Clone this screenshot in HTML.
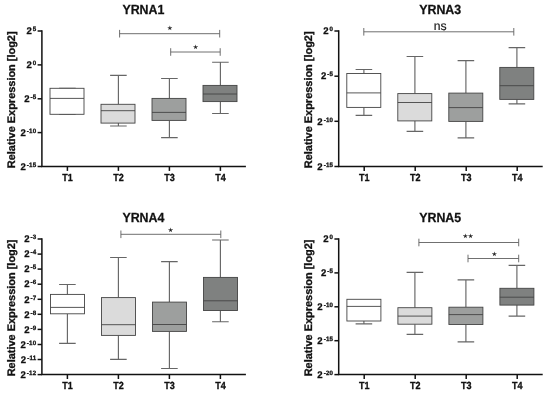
<!DOCTYPE html>
<html><head><meta charset="utf-8"><title>YRNA expression</title>
<style>
html,body{margin:0;padding:0;background:#fff;}
svg{display:block;font-family:"Liberation Sans", sans-serif;text-rendering:geometricPrecision;}
.title{font-weight:bold;font-size:12.4px;fill:#111;stroke:#111;stroke-width:0.25px;}
.ylab{font-weight:bold;font-size:10.95px;fill:#111;stroke:#111;stroke-width:0.3px;}
.yt{font-weight:bold;font-size:9.6px;fill:#111;stroke:#111;stroke-width:0.3px;}
.sup{font-size:6.2px;letter-spacing:0.2px;}
.xt{font-weight:bold;font-size:9px;fill:#111;stroke:#111;stroke-width:0.3px;}
.ax{stroke:#111;stroke-width:1.5;fill:none;}
.bx path,.bx rect{stroke:#444;stroke-width:0.9;}
.bx path.w{stroke:#666;stroke-width:1.15;}
.bx path{fill:none;}
.sig{stroke:#606060;stroke-width:0.9;fill:none;}
.star{font-family:"DejaVu Sans",sans-serif;font-size:5.8px;fill:#222;stroke:#222;stroke-width:0.15px;}
.ns{font-size:12.2px;fill:#222;stroke:#222;stroke-width:0.2px;}
</style></head><body>
<svg width="550" height="397" viewBox="0 0 550 397">
<rect width="550" height="397" fill="#fff"/>
<text transform="translate(143.4,14.2) scale(1,1.07)" class="title" text-anchor="middle">YRNA1</text>
<text transform="translate(15.3,99.8) rotate(-90)" class="ylab" text-anchor="middle">Relative Expression [log2]</text>
<g class="bx"><path class="w" d="M67.4 88.3V88.3M59.1 88.3H75.7"/><path class="w" d="M67.4 114.3V114.3M59.1 114.3H75.7"/><rect x="50.00" y="88.3" width="34.0" height="26.0" fill="#ffffff"/><path d="M50.00 98.4H84.00"/></g>
<g class="bx"><path class="w" d="M118.4 104.3V75.3M110.1 75.3H126.7"/><path class="w" d="M118.4 123.1V126.0M110.1 126.0H126.7"/><rect x="101.00" y="104.3" width="34.0" height="18.8" fill="#dbdbdb"/><path d="M101.00 110.7H135.00"/></g>
<g class="bx"><path class="w" d="M169.4 98.4V78.5M161.1 78.5H177.7"/><path class="w" d="M169.4 120.4V137.6M161.1 137.6H177.7"/><rect x="152.00" y="98.4" width="34.0" height="22.0" fill="#9d9f9e"/><path d="M152.00 112.4H186.00"/></g>
<g class="bx"><path class="w" d="M220.4 85.4V62.2M212.1 62.2H228.7"/><path class="w" d="M220.4 101.6V113.5M212.1 113.5H228.7"/><rect x="203.00" y="85.4" width="34.0" height="16.2" fill="#7f8180"/><path d="M203.00 94.0H237.00"/></g>
<path class="sig" d="M119.6 33.7H219.7M119.6 29.9V37.5M219.7 29.9V37.5"/>
<text x="169.8" y="30.1" class="star" text-anchor="middle">★</text>
<path class="sig" d="M170.7 52.0H220.2M170.7 48.2V55.8M220.2 48.2V55.8"/>
<text x="195.6" y="49.0" class="star" text-anchor="middle">★</text>
<path class="ax" d="M41.9 30.3V166.5H245.9"/>
<path class="ax" d="M37.6 31.0H41.9"/>
<text x="36.4" y="34.2" class="yt" text-anchor="end">2<tspan class="sup" dy="-3.0" dx="1.0">5</tspan></text>
<path class="ax" d="M37.6 64.9H41.9"/>
<text x="36.4" y="68.1" class="yt" text-anchor="end">2<tspan class="sup" dy="-3.0" dx="1.0">0</tspan></text>
<path class="ax" d="M37.6 98.8H41.9"/>
<text x="36.4" y="102.0" class="yt" text-anchor="end">2<tspan class="sup" dy="-3.0" dx="1.0">-5</tspan></text>
<path class="ax" d="M37.6 132.6H41.9"/>
<text x="36.4" y="135.8" class="yt" text-anchor="end">2<tspan class="sup" dy="-3.0" dx="1.0">-10</tspan></text>
<path class="ax" d="M37.6 166.5H41.9"/>
<text x="36.4" y="169.7" class="yt" text-anchor="end">2<tspan class="sup" dy="-3.0" dx="1.0">-15</tspan></text>
<path class="ax" d="M67.4 166.5V170.9"/>
<text transform="translate(67.4,180.6) scale(1,1.15)" class="xt" text-anchor="middle">T1</text>
<path class="ax" d="M118.4 166.5V170.9"/>
<text transform="translate(118.4,180.6) scale(1,1.15)" class="xt" text-anchor="middle">T2</text>
<path class="ax" d="M169.4 166.5V170.9"/>
<text transform="translate(169.4,180.6) scale(1,1.15)" class="xt" text-anchor="middle">T3</text>
<path class="ax" d="M220.4 166.5V170.9"/>
<text transform="translate(220.4,180.6) scale(1,1.15)" class="xt" text-anchor="middle">T4</text>
<text transform="translate(440.2,14.2) scale(1,1.07)" class="title" text-anchor="middle">YRNA3</text>
<text transform="translate(312.1,99.8) rotate(-90)" class="ylab" text-anchor="middle">Relative Expression [log2]</text>
<g class="bx"><path class="w" d="M363.9 73.5V69.5M355.6 69.5H372.2"/><path class="w" d="M363.9 107.4V115.3M355.6 115.3H372.2"/><rect x="346.80" y="73.5" width="34.0" height="33.9" fill="#ffffff"/><path d="M346.80 92.9H380.80"/></g>
<g class="bx"><path class="w" d="M414.9 93.6V56.5M406.6 56.5H423.2"/><path class="w" d="M414.9 120.9V131.3M406.6 131.3H423.2"/><rect x="397.80" y="93.6" width="34.0" height="27.3" fill="#dbdbdb"/><path d="M397.80 102.5H431.80"/></g>
<g class="bx"><path class="w" d="M465.9 93.1V60.6M457.6 60.6H474.2"/><path class="w" d="M465.9 121.4V137.9M457.6 137.9H474.2"/><rect x="448.80" y="93.1" width="34.0" height="28.3" fill="#9d9f9e"/><path d="M448.80 107.6H482.80"/></g>
<g class="bx"><path class="w" d="M516.9 67.4V47.6M508.6 47.6H525.2"/><path class="w" d="M516.9 99.4V103.8M508.6 103.8H525.2"/><rect x="499.80" y="67.4" width="34.0" height="32.0" fill="#7f8180"/><path d="M499.80 85.7H533.80"/></g>
<path class="sig" d="M363.8 31.8H513.8M363.8 28.0V35.6M513.8 28.0V35.6"/>
<text x="440.2" y="29.8" class="ns" text-anchor="middle">ns</text>
<path class="ax" d="M338.7 30.3V166.5H542.7"/>
<path class="ax" d="M334.4 31.0H338.7"/>
<text x="333.2" y="34.2" class="yt" text-anchor="end">2<tspan class="sup" dy="-3.0" dx="1.0">0</tspan></text>
<path class="ax" d="M334.4 76.2H338.7"/>
<text x="333.2" y="79.4" class="yt" text-anchor="end">2<tspan class="sup" dy="-3.0" dx="1.0">-5</tspan></text>
<path class="ax" d="M334.4 121.3H338.7"/>
<text x="333.2" y="124.5" class="yt" text-anchor="end">2<tspan class="sup" dy="-3.0" dx="1.0">-10</tspan></text>
<path class="ax" d="M334.4 166.5H338.7"/>
<text x="333.2" y="169.7" class="yt" text-anchor="end">2<tspan class="sup" dy="-3.0" dx="1.0">-15</tspan></text>
<path class="ax" d="M364.2 166.5V170.9"/>
<text transform="translate(364.2,180.6) scale(1,1.15)" class="xt" text-anchor="middle">T1</text>
<path class="ax" d="M415.2 166.5V170.9"/>
<text transform="translate(415.2,180.6) scale(1,1.15)" class="xt" text-anchor="middle">T2</text>
<path class="ax" d="M466.2 166.5V170.9"/>
<text transform="translate(466.2,180.6) scale(1,1.15)" class="xt" text-anchor="middle">T3</text>
<path class="ax" d="M517.2 166.5V170.9"/>
<text transform="translate(517.2,180.6) scale(1,1.15)" class="xt" text-anchor="middle">T4</text>
<text transform="translate(143.4,222.2) scale(1,1.07)" class="title" text-anchor="middle">YRNA4</text>
<text transform="translate(15.3,307.9) rotate(-90)" class="ylab" text-anchor="middle">Relative Expression [log2]</text>
<g class="bx"><path class="w" d="M67.4 294.4V284.5M59.1 284.5H75.7"/><path class="w" d="M67.4 313.8V343.3M59.1 343.3H75.7"/><rect x="50.50" y="294.4" width="34.0" height="19.4" fill="#ffffff"/><path d="M50.50 307.4H84.50"/></g>
<g class="bx"><path class="w" d="M118.4 297.6V257.5M110.1 257.5H126.7"/><path class="w" d="M118.4 335.4V359.3M110.1 359.3H126.7"/><rect x="101.50" y="297.6" width="34.0" height="37.8" fill="#dbdbdb"/><path d="M101.50 324.7H135.50"/></g>
<g class="bx"><path class="w" d="M169.4 302.1V261.6M161.1 261.6H177.7"/><path class="w" d="M169.4 331.4V368.5M161.1 368.5H177.7"/><rect x="152.50" y="302.1" width="34.0" height="29.3" fill="#9d9f9e"/><path d="M152.50 324.5H186.50"/></g>
<g class="bx"><path class="w" d="M220.4 277.4V240.0M212.1 240.0H228.7"/><path class="w" d="M220.4 310.5V321.7M212.1 321.7H228.7"/><rect x="203.50" y="277.4" width="34.0" height="33.1" fill="#7f8180"/><path d="M203.50 300.8H237.50"/></g>
<path class="sig" d="M120.9 234.3H220.8M120.9 230.5V238.1M220.8 230.5V238.1"/>
<text x="170.7" y="231.5" class="star" text-anchor="middle">★</text>
<path class="ax" d="M41.9 238.3V374.6H245.9"/>
<path class="ax" d="M37.6 239.0H41.9"/>
<text x="36.4" y="242.2" class="yt" text-anchor="end">2<tspan class="sup" dy="-3.0" dx="1.0">-3</tspan></text>
<path class="ax" d="M37.6 254.1H41.9"/>
<text x="36.4" y="257.3" class="yt" text-anchor="end">2<tspan class="sup" dy="-3.0" dx="1.0">-4</tspan></text>
<path class="ax" d="M37.6 269.1H41.9"/>
<text x="36.4" y="272.3" class="yt" text-anchor="end">2<tspan class="sup" dy="-3.0" dx="1.0">-5</tspan></text>
<path class="ax" d="M37.6 284.2H41.9"/>
<text x="36.4" y="287.4" class="yt" text-anchor="end">2<tspan class="sup" dy="-3.0" dx="1.0">-6</tspan></text>
<path class="ax" d="M37.6 299.3H41.9"/>
<text x="36.4" y="302.5" class="yt" text-anchor="end">2<tspan class="sup" dy="-3.0" dx="1.0">-7</tspan></text>
<path class="ax" d="M37.6 314.3H41.9"/>
<text x="36.4" y="317.5" class="yt" text-anchor="end">2<tspan class="sup" dy="-3.0" dx="1.0">-8</tspan></text>
<path class="ax" d="M37.6 329.4H41.9"/>
<text x="36.4" y="332.6" class="yt" text-anchor="end">2<tspan class="sup" dy="-3.0" dx="1.0">-9</tspan></text>
<path class="ax" d="M37.6 344.5H41.9"/>
<text x="36.4" y="347.7" class="yt" text-anchor="end">2<tspan class="sup" dy="-3.0" dx="1.0">-10</tspan></text>
<path class="ax" d="M37.6 359.5H41.9"/>
<text x="36.4" y="362.7" class="yt" text-anchor="end">2<tspan class="sup" dy="-3.0" dx="1.0">-11</tspan></text>
<path class="ax" d="M37.6 374.6H41.9"/>
<text x="36.4" y="377.8" class="yt" text-anchor="end">2<tspan class="sup" dy="-3.0" dx="1.0">-12</tspan></text>
<path class="ax" d="M67.4 374.6V379.0"/>
<text transform="translate(67.4,388.7) scale(1,1.15)" class="xt" text-anchor="middle">T1</text>
<path class="ax" d="M118.4 374.6V379.0"/>
<text transform="translate(118.4,388.7) scale(1,1.15)" class="xt" text-anchor="middle">T2</text>
<path class="ax" d="M169.4 374.6V379.0"/>
<text transform="translate(169.4,388.7) scale(1,1.15)" class="xt" text-anchor="middle">T3</text>
<path class="ax" d="M220.4 374.6V379.0"/>
<text transform="translate(220.4,388.7) scale(1,1.15)" class="xt" text-anchor="middle">T4</text>
<text transform="translate(440.2,222.2) scale(1,1.07)" class="title" text-anchor="middle">YRNA5</text>
<text transform="translate(312.1,307.9) rotate(-90)" class="ylab" text-anchor="middle">Relative Expression [log2]</text>
<g class="bx"><path class="w" d="M363.9 321.0V323.8M355.6 323.8H372.2"/><rect x="346.90" y="299.3" width="34.0" height="21.7" fill="#ffffff"/><path d="M346.90 306.4H380.90"/></g>
<g class="bx"><path class="w" d="M414.9 307.7V272.3M406.6 272.3H423.2"/><path class="w" d="M414.9 324.2V334.4M406.6 334.4H423.2"/><rect x="397.90" y="307.7" width="34.0" height="16.5" fill="#dbdbdb"/><path d="M397.90 316.1H431.90"/></g>
<g class="bx"><path class="w" d="M465.9 307.2V279.9M457.6 279.9H474.2"/><path class="w" d="M465.9 324.5V341.8M457.6 341.8H474.2"/><rect x="448.90" y="307.2" width="34.0" height="17.3" fill="#9d9f9e"/><path d="M448.90 314.6H482.90"/></g>
<g class="bx"><path class="w" d="M516.9 288.3V265.4M508.6 265.4H525.2"/><path class="w" d="M516.9 305.1V316.1M508.6 316.1H525.2"/><rect x="499.90" y="288.3" width="34.0" height="16.8" fill="#7f8180"/><path d="M499.90 297.2H533.90"/></g>
<path class="sig" d="M418.9 242.5H518.7M418.9 238.7V246.3M518.7 238.7V246.3"/>
<text x="467.9" y="237.9" class="star" text-anchor="middle">★★</text>
<path class="sig" d="M468.0 258.5H518.7M468.0 254.7V262.3M518.7 254.7V262.3"/>
<text x="494.4" y="256.4" class="star" text-anchor="middle">★</text>
<path class="ax" d="M338.7 238.3V374.6H542.7"/>
<path class="ax" d="M334.4 239.0H338.7"/>
<text x="333.2" y="242.2" class="yt" text-anchor="end">2<tspan class="sup" dy="-3.0" dx="1.0">0</tspan></text>
<path class="ax" d="M334.4 272.9H338.7"/>
<text x="333.2" y="276.1" class="yt" text-anchor="end">2<tspan class="sup" dy="-3.0" dx="1.0">-5</tspan></text>
<path class="ax" d="M334.4 306.8H338.7"/>
<text x="333.2" y="310.0" class="yt" text-anchor="end">2<tspan class="sup" dy="-3.0" dx="1.0">-10</tspan></text>
<path class="ax" d="M334.4 340.7H338.7"/>
<text x="333.2" y="343.9" class="yt" text-anchor="end">2<tspan class="sup" dy="-3.0" dx="1.0">-15</tspan></text>
<path class="ax" d="M334.4 374.6H338.7"/>
<text x="333.2" y="377.8" class="yt" text-anchor="end">2<tspan class="sup" dy="-3.0" dx="1.0">-20</tspan></text>
<path class="ax" d="M364.2 374.6V379.0"/>
<text transform="translate(364.2,388.7) scale(1,1.15)" class="xt" text-anchor="middle">T1</text>
<path class="ax" d="M415.2 374.6V379.0"/>
<text transform="translate(415.2,388.7) scale(1,1.15)" class="xt" text-anchor="middle">T2</text>
<path class="ax" d="M466.2 374.6V379.0"/>
<text transform="translate(466.2,388.7) scale(1,1.15)" class="xt" text-anchor="middle">T3</text>
<path class="ax" d="M517.2 374.6V379.0"/>
<text transform="translate(517.2,388.7) scale(1,1.15)" class="xt" text-anchor="middle">T4</text>
</svg>
</body></html>
